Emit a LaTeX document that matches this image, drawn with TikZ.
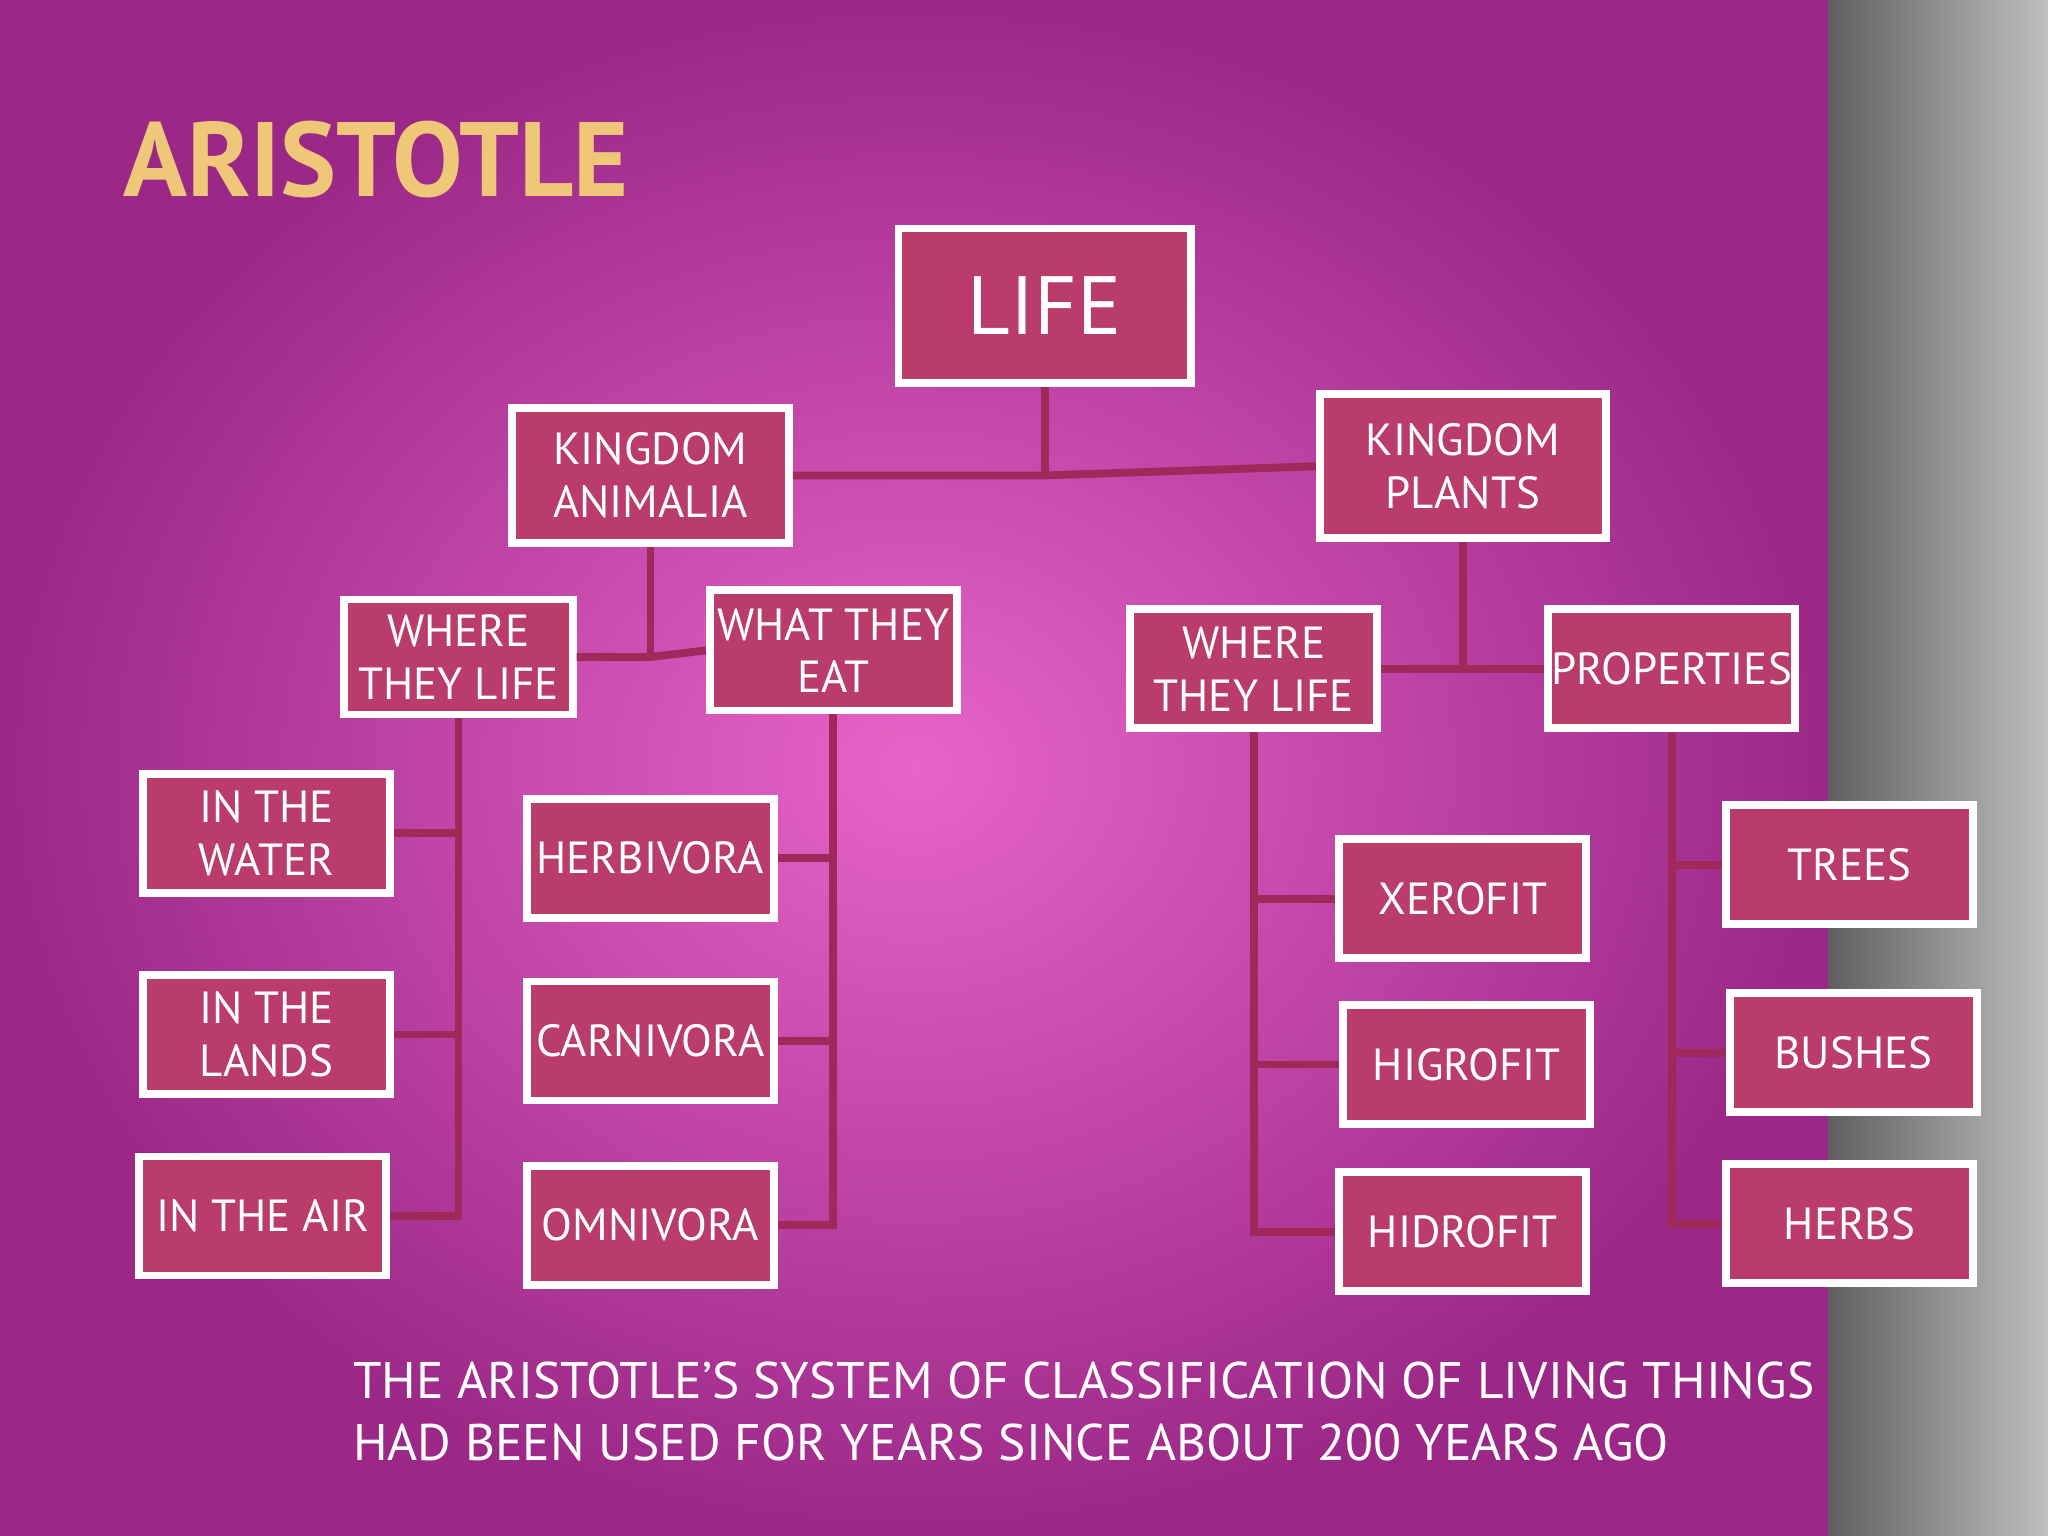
\documentclass[tikz,border=0pt]{standalone}
\usepackage{fontspec}
\setmainfont{PT Sans}
\usetikzlibrary{positioning,calc}

\definecolor{boxred}{RGB}{186,60,106}
\definecolor{linkred}{RGB}{160,40,90}
\definecolor{bgin}{RGB}{232,100,200}
\definecolor{bgout}{RGB}{155,40,135}
\definecolor{gold}{RGB}{238,200,120}

\tikzset{
  box/.style={draw=white,line width=0.6mm,fill=boxred,text=white,
    align=center,inner sep=0pt,font=\fontsize{9.8}{11.5}\selectfont},
  link/.style={linkred,line width=0.6mm}
}

\begin{document}
\begin{tikzpicture}[x=0.01cm,y=-0.01cm]

% background and side strip
\useasboundingbox (0,0) rectangle (1568,1176);
\shade[inner color=bgin,outer color=bgout] (0,0) rectangle (1400,1176);
\shade[left color=gray!75!black,right color=gray!50] (1400,0) rectangle (1568,1176);

% title
\node[anchor=west,text=gold,font=\fontsize{23}{26}\selectfont\bfseries] (title) at (82,122) {ARISTOTLE};

% boxes
\node[box,minimum width=2.24cm,minimum height=1.18cm,font=\fontsize{18}{21}\selectfont] (life) at (800,234) {LIFE};
\node[box,minimum width=2.12cm,minimum height=1.03cm] (anim) at (498,364) {KINGDOM\\ANIMALIA};
\node[box,minimum width=2.19cm,minimum height=1.1cm] (plants) at (1120,357) {KINGDOM\\PLANTS};
\node[box,minimum width=1.75cm,minimum height=0.88cm] (awhere) at (351,503) {WHERE\\THEY LIFE};
\node[box,minimum width=1.89cm,minimum height=0.92cm] (aeat) at (638,498) {WHAT THEY\\EAT};
\node[box,minimum width=1.89cm,minimum height=0.91cm] (pwhere) at (960,512) {WHERE\\THEY LIFE};
\node[box,minimum width=1.89cm,minimum height=0.91cm] (pprop) at (1280,512) {PROPERTIES};

\foreach \name/\x/\y/\txt in {water/204/638/{IN THE\\WATER}, lands/204/792/{IN THE\\LANDS},
    air/201/931/{IN THE AIR}, herbi/498/657/HERBIVORA, carni/498/797/CARNIVORA,
    omni/498/938/OMNIVORA, xero/1120/688/XEROFIT, higro/1123/815/HIGROFIT,
    hidro/1120/943/HIDROFIT, trees/1416/662/TREES, bushes/1419/806/BUSHES, herbs/1416/937/HERBS}
  \node[box,minimum width=1.89cm,minimum height=0.91cm] (\name) at (\x,\y) {\txt};

% connectors
\coordinate (lifej) at (life.south |- anim.east);
\draw[link] (anim.east) -- (lifej) -- (plants.west);
\draw[link] (life.south) -- (lifej);
\coordinate (animj) at (anim.south |- awhere.east);
\draw[link] (anim.south) -- (animj);
\draw[link] (awhere.east) -- (animj) -- (aeat.west);
\coordinate (plantj) at (plants.south |- pwhere.east);
\draw[link] (plants.south) -- (plantj);
\draw[link] (pwhere.east) -- (pprop.west);

\draw[link] (awhere.south) |- (air.east);
\draw[link] (water.east) -- (water.east -| awhere.south);
\draw[link] (lands.east) -- (lands.east -| awhere.south);
\draw[link] (aeat.south) |- (omni.east);
\draw[link] (herbi.east) -- (herbi.east -| aeat.south);
\draw[link] (carni.east) -- (carni.east -| aeat.south);
\draw[link] (pwhere.south) |- (hidro.west);
\draw[link] (xero.west) -- (xero.west -| pwhere.south);
\draw[link] (higro.west) -- (higro.west -| pwhere.south);
\draw[link] (pprop.south) |- (herbs.west);
\draw[link] (trees.west) -- (trees.west -| pprop.south);
\draw[link] (bushes.west) -- (bushes.west -| pprop.south);

% caption
\node[anchor=north west,text=white,align=left,font=\fontsize{11.2}{13.5}\selectfont] (caption) at (258,1030)
  {THE ARISTOTLE’S SYSTEM OF CLASSIFICATION OF LIVING THINGS\\HAD BEEN USED FOR YEARS SINCE ABOUT 200 YEARS AGO};

\end{tikzpicture}
\end{document}
